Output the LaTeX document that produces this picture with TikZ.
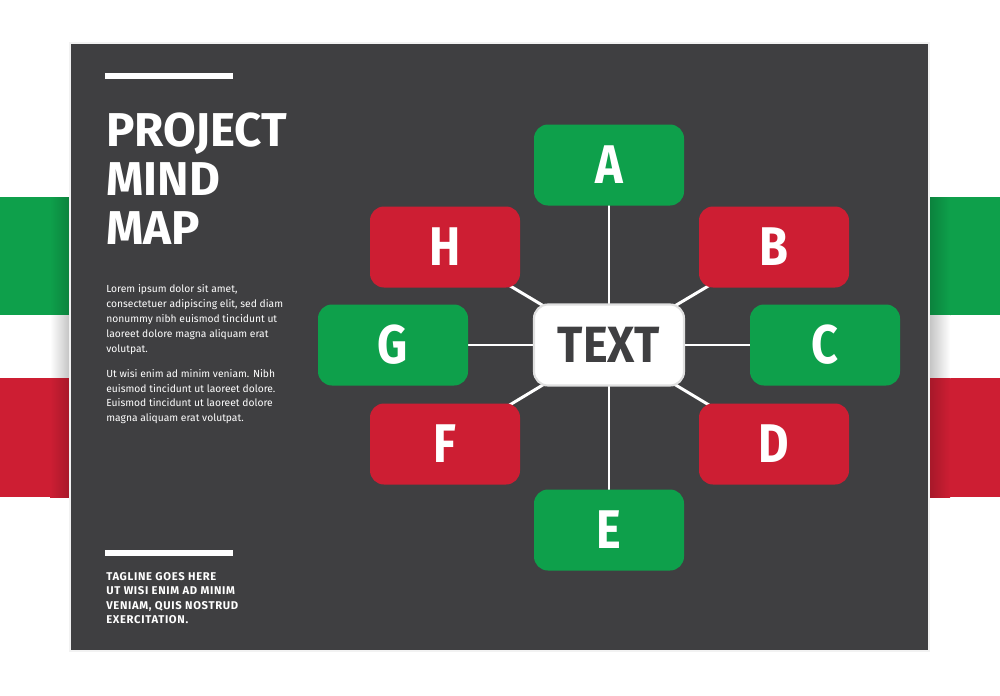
\documentclass[tikz,border=0pt]{standalone}
\usepackage{fontspec}
\setmainfont{Fira Sans}
\newfontfamily\condfont[FakeStretch=0.86]{Fira Sans}
\newfontfamily\hubfont[FakeStretch=0.92]{Fira Sans}
\newfontfamily\tagfont[LetterSpace=6]{Fira Sans}
\usepackage{xcolor}
\usetikzlibrary{calc}
\definecolor{panelgray}{HTML}{3F3F41}
\definecolor{mapgreen}{HTML}{0EA04B}
\definecolor{mapred}{HTML}{CD1E33}
\pgfdeclarelayer{back}
\pgfdeclarelayer{spokes}
\pgfsetlayers{back,spokes,main}

\begin{document}
\begin{tikzpicture}[
	leaf/.style={rounded corners=0.28cm, minimum width=3cm, minimum height=1.62cm, inner sep=0pt, text=white, font=\condfont\bfseries\fontsize{31}{31}\selectfont},
	greenleaf/.style={leaf, fill=mapgreen},
	redleaf/.style={leaf, fill=mapred},
	hub/.style={leaf, fill=white, draw=black!12, line width=1.2pt, text=panelgray, font=\hubfont\bfseries\fontsize{29}{29}\selectfont},
	spoke/.style={white, line width=1.7pt},
	bar/.style={fill=white}]
	\useasboundingbox (0,0) rectangle (20,13.9);
	\begin{pgfonlayer}{back}
		\fill[white] (0,0) rectangle (20,13.9);
		\fill[mapgreen] (0,7.6) rectangle (20,9.96);
		\fill[mapred] (0,3.96) rectangle (20,6.34);
		\shade[left color=mapgreen, right color=mapgreen!80!black] (1.0,7.6) rectangle (1.42,9.96);
		\shade[left color=white, right color=black!25] (1.0,6.34) rectangle (1.42,7.6);
		\shade[left color=mapred, right color=mapred!80!black] (1.0,3.96) rectangle (1.42,6.34);
		\shade[right color=mapgreen, left color=mapgreen!80!black] (18.56,7.6) rectangle (19.0,9.96);
		\shade[right color=white, left color=black!25] (18.56,6.34) rectangle (19.0,7.6);
		\shade[right color=mapred, left color=mapred!80!black] (18.56,3.96) rectangle (19.0,6.34);
		\fill[black!5] (1.38,0.86) rectangle (18.6,13.06);
		\fill[panelgray] (1.42,0.9) rectangle (18.56,13.02);
		\fill[bar] (2.1,12.44) rectangle (4.66,12.32);
		\fill[bar] (2.1,2.9) rectangle (4.66,2.78);
	\end{pgfonlayer}
	\node[anchor=north west, inner sep=0pt, align=left, text=white, font=\bfseries\fontsize{27}{28}\selectfont] (title) at (2.12,11.66) {PROJECT\\MIND\\MAP};
	\node[anchor=north west, inner sep=0pt, align=left, text=white, font=\fontsize{5.85}{8.5}\selectfont] (lorem) at (2.12,8.22) {Lorem ipsum dolor sit amet,\\consectetuer adipiscing elit, sed diam\\nonummy nibh euismod tincidunt ut\\laoreet dolore magna aliquam erat\\volutpat.\\[5.7pt]Ut wisi enim ad minim veniam. Nibh\\euismod tincidunt ut laoreet dolore.\\Euismod tincidunt ut laoreet dolore\\magna aliquam erat volutpat.};
	\node[anchor=north west, inner sep=0pt, align=left, text=white, font=\tagfont\bfseries\fontsize{6.4}{8.2}\selectfont] (tagline) at (2.12,2.46) {TAGLINE GOES HERE\\UT WISI ENIM AD MINIM\\VENIAM, QUIS NOSTRUD\\EXERCITATION.};
	\node[hub] (hub) at (12.18,7.0) {TEXT};
	\node[greenleaf] (a) at (12.18,10.6) {A};
	\node[redleaf] (b) at (15.48,8.96) {B};
	\node[greenleaf] (c) at (16.5,7.0) {C};
	\node[redleaf] (d) at (15.48,5.02) {D};
	\node[greenleaf] (e) at (12.18,3.3) {E};
	\node[redleaf] (f) at (8.9,5.02) {F};
	\node[greenleaf] (g) at (7.86,7.0) {G};
	\node[redleaf] (h) at (8.9,8.96) {H};
	\begin{pgfonlayer}{spokes}
		\foreach \leaf in {a,b,c,d,e,f,g,h}
			\draw[spoke] (hub.center) -- (\leaf.center);
	\end{pgfonlayer}
\end{tikzpicture}
\end{document}
